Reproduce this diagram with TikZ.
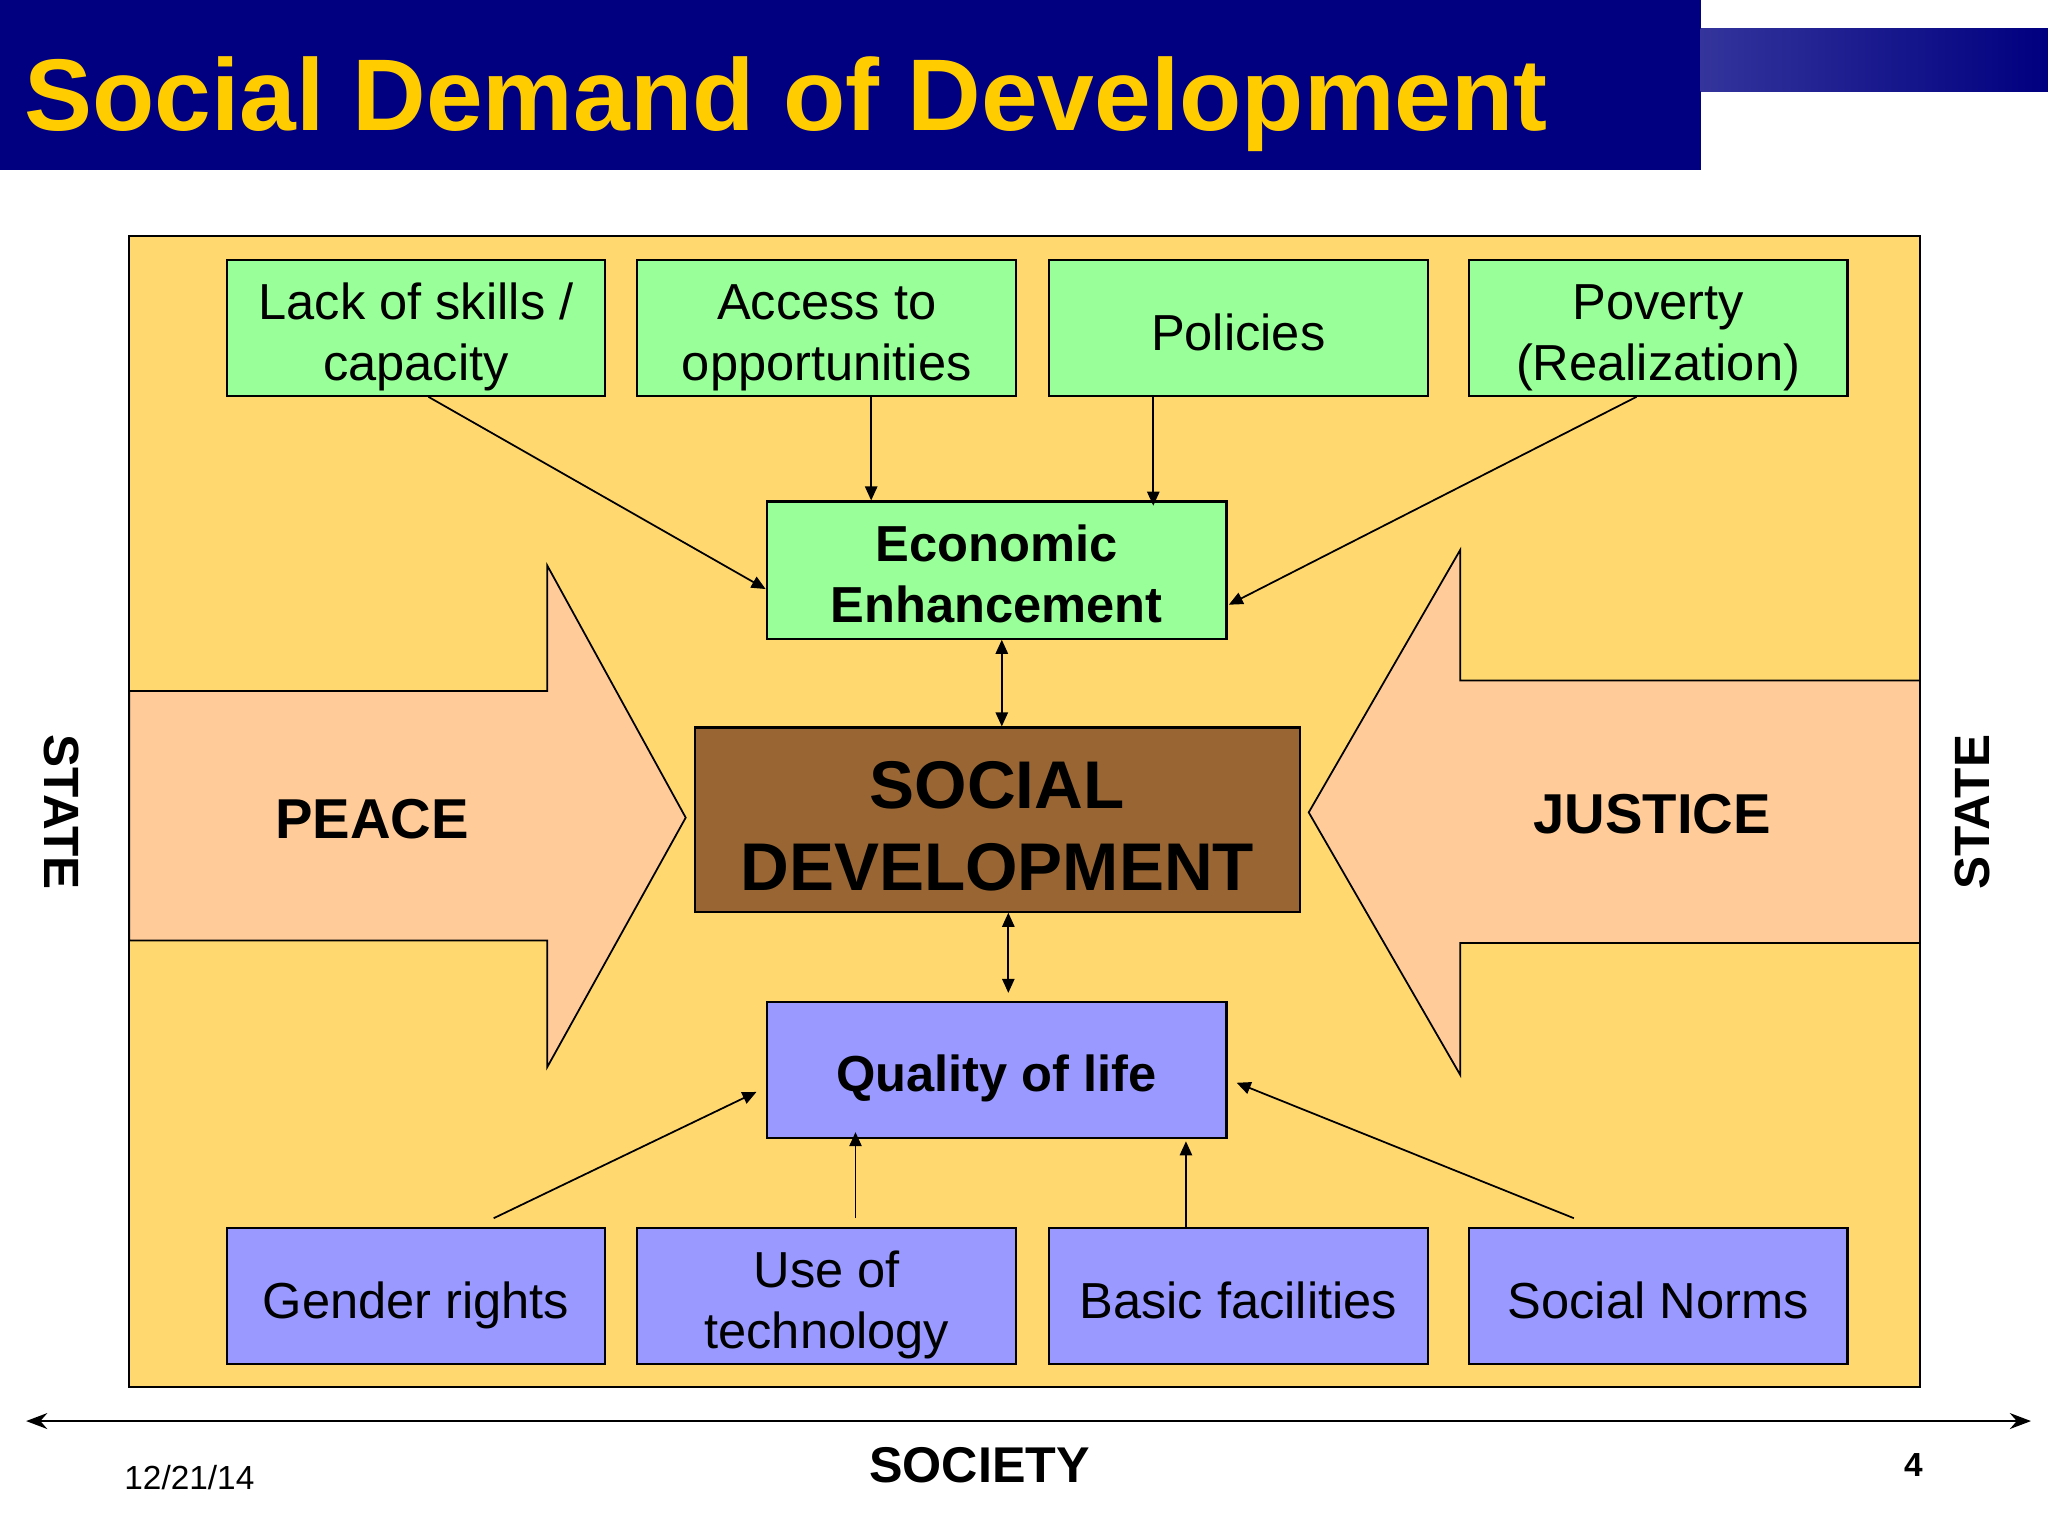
\documentclass[tikz,border=0pt]{standalone}
\usepackage{fontspec}
\setmainfont{Liberation Sans}
\usetikzlibrary{calc,arrows.meta}
\definecolor{navy}{HTML}{000080}
\definecolor{barblue}{HTML}{34349C}
\definecolor{titleyellow}{HTML}{FFCC00}
\definecolor{panel}{HTML}{FFD970}
\definecolor{boxgreen}{HTML}{99FF99}
\definecolor{boxblue}{HTML}{9999FF}
\definecolor{boxbrown}{HTML}{996633}
\definecolor{peach}{HTML}{FFCC99}
\def\pxu{0.0130612cm}
% struts: height on the first line, depth on the last one
\newcommand{\topstrut}{\rule{0pt}{1.08em}}
\newcommand{\botstrut}{\rule[-0.2em]{0pt}{0.2em}}
\tikzset{
	cellbox/.style={draw, line width=0.6pt, inner sep=0pt, align=center, minimum width={290*\pxu}, minimum height={104*\pxu}, font=\fontsize{14.4}{17.4}\selectfont},
	midbox/.style={cellbox, minimum width={352*\pxu}, font=\bfseries\fontsize{14.4}{17.4}\selectfont},
	conn/.style={line width=0.5pt, -{Triangle[length=4pt,width=3.5pt]}},
	bothconn/.style={line width=0.5pt, {Triangle[length=4pt,width=3.5pt]}-{Triangle[length=4pt,width=3.5pt]}},
	bigarrow/.style={draw, fill=peach, line width=0.5pt},
}

\begin{document}
\begin{tikzpicture}[x=\pxu, y=-\pxu]
			%%%%% START %%%%%
			\useasboundingbox (0,0) rectangle (1568,1176);
			
			\fill[navy] (0,0) rectangle (1302,130);
			\shade[left color=barblue, right color=navy] (1302,22) rectangle (1568,70);
			\node[anchor=base west, inner sep=0pt, text=titleyellow, font=\bfseries\fontsize{29}{35}\selectfont] (title) at (18,100) {Social Demand of Development};
			
			\draw[fill=panel, line width=0.6pt] (99,181) rectangle (1470,1062);
			
			\draw[bigarrow] (99,529) -- (419,529) -- (419,433) -- (525,626) -- (419,817) -- (419,720) -- (99,720) -- cycle;
			\draw[bigarrow] (1470,521) -- (1118,521) -- (1118,421) -- (1002,622) -- (1118,823) -- (1118,722) -- (1470,722) -- cycle;
			\node[font=\bfseries\fontsize{16}{19}\selectfont] (peace) at (285,627) {PEACE};
			\node[font=\bfseries\fontsize{16}{19}\selectfont] (justice) at (1265,623) {JUSTICE};
			
			\node[cellbox, fill=boxgreen] (lack) at (318.5,251) {\topstrut Lack of skills /\\capacity\botstrut};
			\node[cellbox, fill=boxgreen] (access) at (633,251) {\topstrut Access to\\opportunities\botstrut};
			\node[cellbox, fill=boxgreen] (policies) at (948,251) {\topstrut Policies\botstrut};
			\node[cellbox, fill=boxgreen] (poverty) at (1269.5,251) {\topstrut Poverty\\(Realization)\botstrut};
			
			\node[midbox, fill=boxgreen, minimum height={105*\pxu}] (econ) at (763,436.5) {\topstrut Economic\\Enhancement\botstrut};
			\node[cellbox, fill=boxbrown, minimum width={463*\pxu}, minimum height={141*\pxu}, font=\bfseries\fontsize{19.2}{23.3}\selectfont] (social) at (763.5,627.5) {\topstrut SOCIAL\\DEVELOPMENT\botstrut};
			\node[midbox, fill=boxblue] (quality) at (763,819) {\topstrut Quality of life\botstrut};
			
			\node[cellbox, fill=boxblue] (gender) at (318.5,992.5) {\topstrut Gender rights\botstrut};
			\node[cellbox, fill=boxblue] (tech) at (633,992.5) {\topstrut Use of\\technology\botstrut};
			\node[cellbox, fill=boxblue] (basic) at (948,992.5) {\topstrut Basic facilities\botstrut};
			\node[cellbox, fill=boxblue] (norms) at (1269.5,992.5) {\topstrut Social Norms\botstrut};
			
			% top row into economic enhancement
			\draw[conn] ($(lack.south)+(9.5,0)$) -- ($(econ.west)+(0,14.5)$);
			\draw[conn] ($(access.south)+(34,0)$) coordinate (a1) -- (a1 |- econ.north);
			\draw[conn] ($(policies.south)+(-65,0)$) coordinate (p1) -- ($(p1 |- econ.north)+(0,4)$);
			\draw[conn] ($(poverty.south)+(-16.5,0)$) -- ($(econ.east)+(1,26.5)$);
			
			\draw[bothconn] ($(econ.south)+(4,0)$) coordinate (e1) -- (e1 |- social.north);
			\draw[bothconn] ($(social.south)+(8.5,0)$) coordinate (s1) -- ($(s1 |- quality.north)+(0,-6)$);
			
			% bottom row into quality of life
			\draw[conn] ($(gender.north)+(59.5,-7)$) -- ($(quality.west)+(-7,17)$);
			\draw[conn] ($(tech.north)+(22,-7)$) coordinate (t1) -- ($(t1 |- quality.south)+(0,-5)$);
			\draw[conn] ($(basic.north)+(-40,0)$) coordinate (b1) -- ($(b1 |- quality.south)+(0,2)$);
			\draw[conn] ($(norms.north)+(-64.5,-7)$) -- ($(quality.east)+(7,10)$);
			
			\node[rotate=-90, font=\bfseries\fontsize{14.1}{17}\selectfont] (stateL) at (47,622) {STATE};
			\node[rotate=90, font=\bfseries\fontsize{14.1}{17}\selectfont] (stateR) at (1510,622) {STATE};
			
			\coordinate (socL) at (20,1088);
			\coordinate (socR) at (1555,1088);
			\draw[line width=0.8pt, {Stealth[length=6pt,width=4.5pt]}-{Stealth[length=6pt,width=4.5pt]}] (socL) -- (socR);
			\node[font=\bfseries\fontsize{14.3}{17}\selectfont] (society) at (750,1122) {SOCIETY};
			\node[font=\fontsize{9.5}{11}\selectfont] (date) at (145,1131) {12/21/14};
			\node[font=\bfseries\fontsize{9.5}{11}\selectfont] (page) at (1465,1122) {4};
			%%%%% END %%%%%
\end{tikzpicture}
\end{document}
